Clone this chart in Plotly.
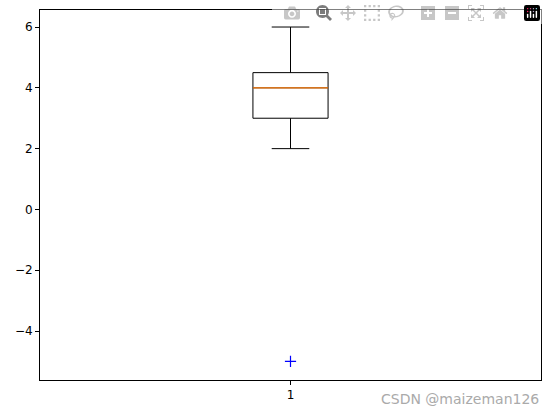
import plotly.graph_objects as go

positions = [1]
q1 = [3]
median = [4]
q3 = [4.5]
lower = [2]
upper = [6]
outliers = [-5]
box_width = 0.15

fig = go.Figure()
fig.add_trace(go.Box(x=positions, q1=q1, median=median, q3=q3,
                     lowerfence=lower, upperfence=upper, width=box_width,
                     whiskerwidth=0.5, fillcolor="white",
                     line=dict(color="black", width=1), boxpoints=False,
                     hoverinfo="skip"))
# orange median line
fig.add_trace(go.Scatter(x=[positions[0] - box_width / 2, positions[0] + box_width / 2],
                         y=[median[0], median[0]], mode="lines",
                         line=dict(color="#ff7f0e", width=1.3)))
fig.add_trace(go.Scatter(x=positions * len(outliers), y=outliers, mode="markers",
                         marker=dict(symbol="cross-thin-open", size=8, color="blue",
                                     line=dict(color="blue", width=1.2))))

axis = dict(showgrid=False, zeroline=False, showline=True, mirror=True,
            linecolor="black", linewidth=1, ticks="outside", ticklen=4,
            tickcolor="black", tickfont=dict(size=12, color="black"))
fig.update_xaxes(range=[0.5, 1.5], tickvals=positions, ticktext=["1"], **axis)
fig.update_yaxes(range=[-5.61, 6.56], tickvals=[-4, -2, 0, 2, 4, 6],
                 ticktext=["\u22124", "\u22122", "0", "2", "4", "6"], **axis)
fig.update_layout(width=546, height=413, showlegend=False,
                  plot_bgcolor="white", paper_bgcolor="white",
                  font=dict(family="DejaVu Sans"),
                  margin=dict(l=40, r=5, t=10, b=33))
fig.add_annotation(text="CSDN @maizeman126", xref="paper", yref="paper",
                   x=1.0, y=-0.025, xanchor="right", yanchor="top",
                   showarrow=False, font=dict(size=14, color="#aaaaaa"))
fig.write_html("out.html",
               post_script="document.body.style.margin='0';document.body.style.overflow='hidden';")
